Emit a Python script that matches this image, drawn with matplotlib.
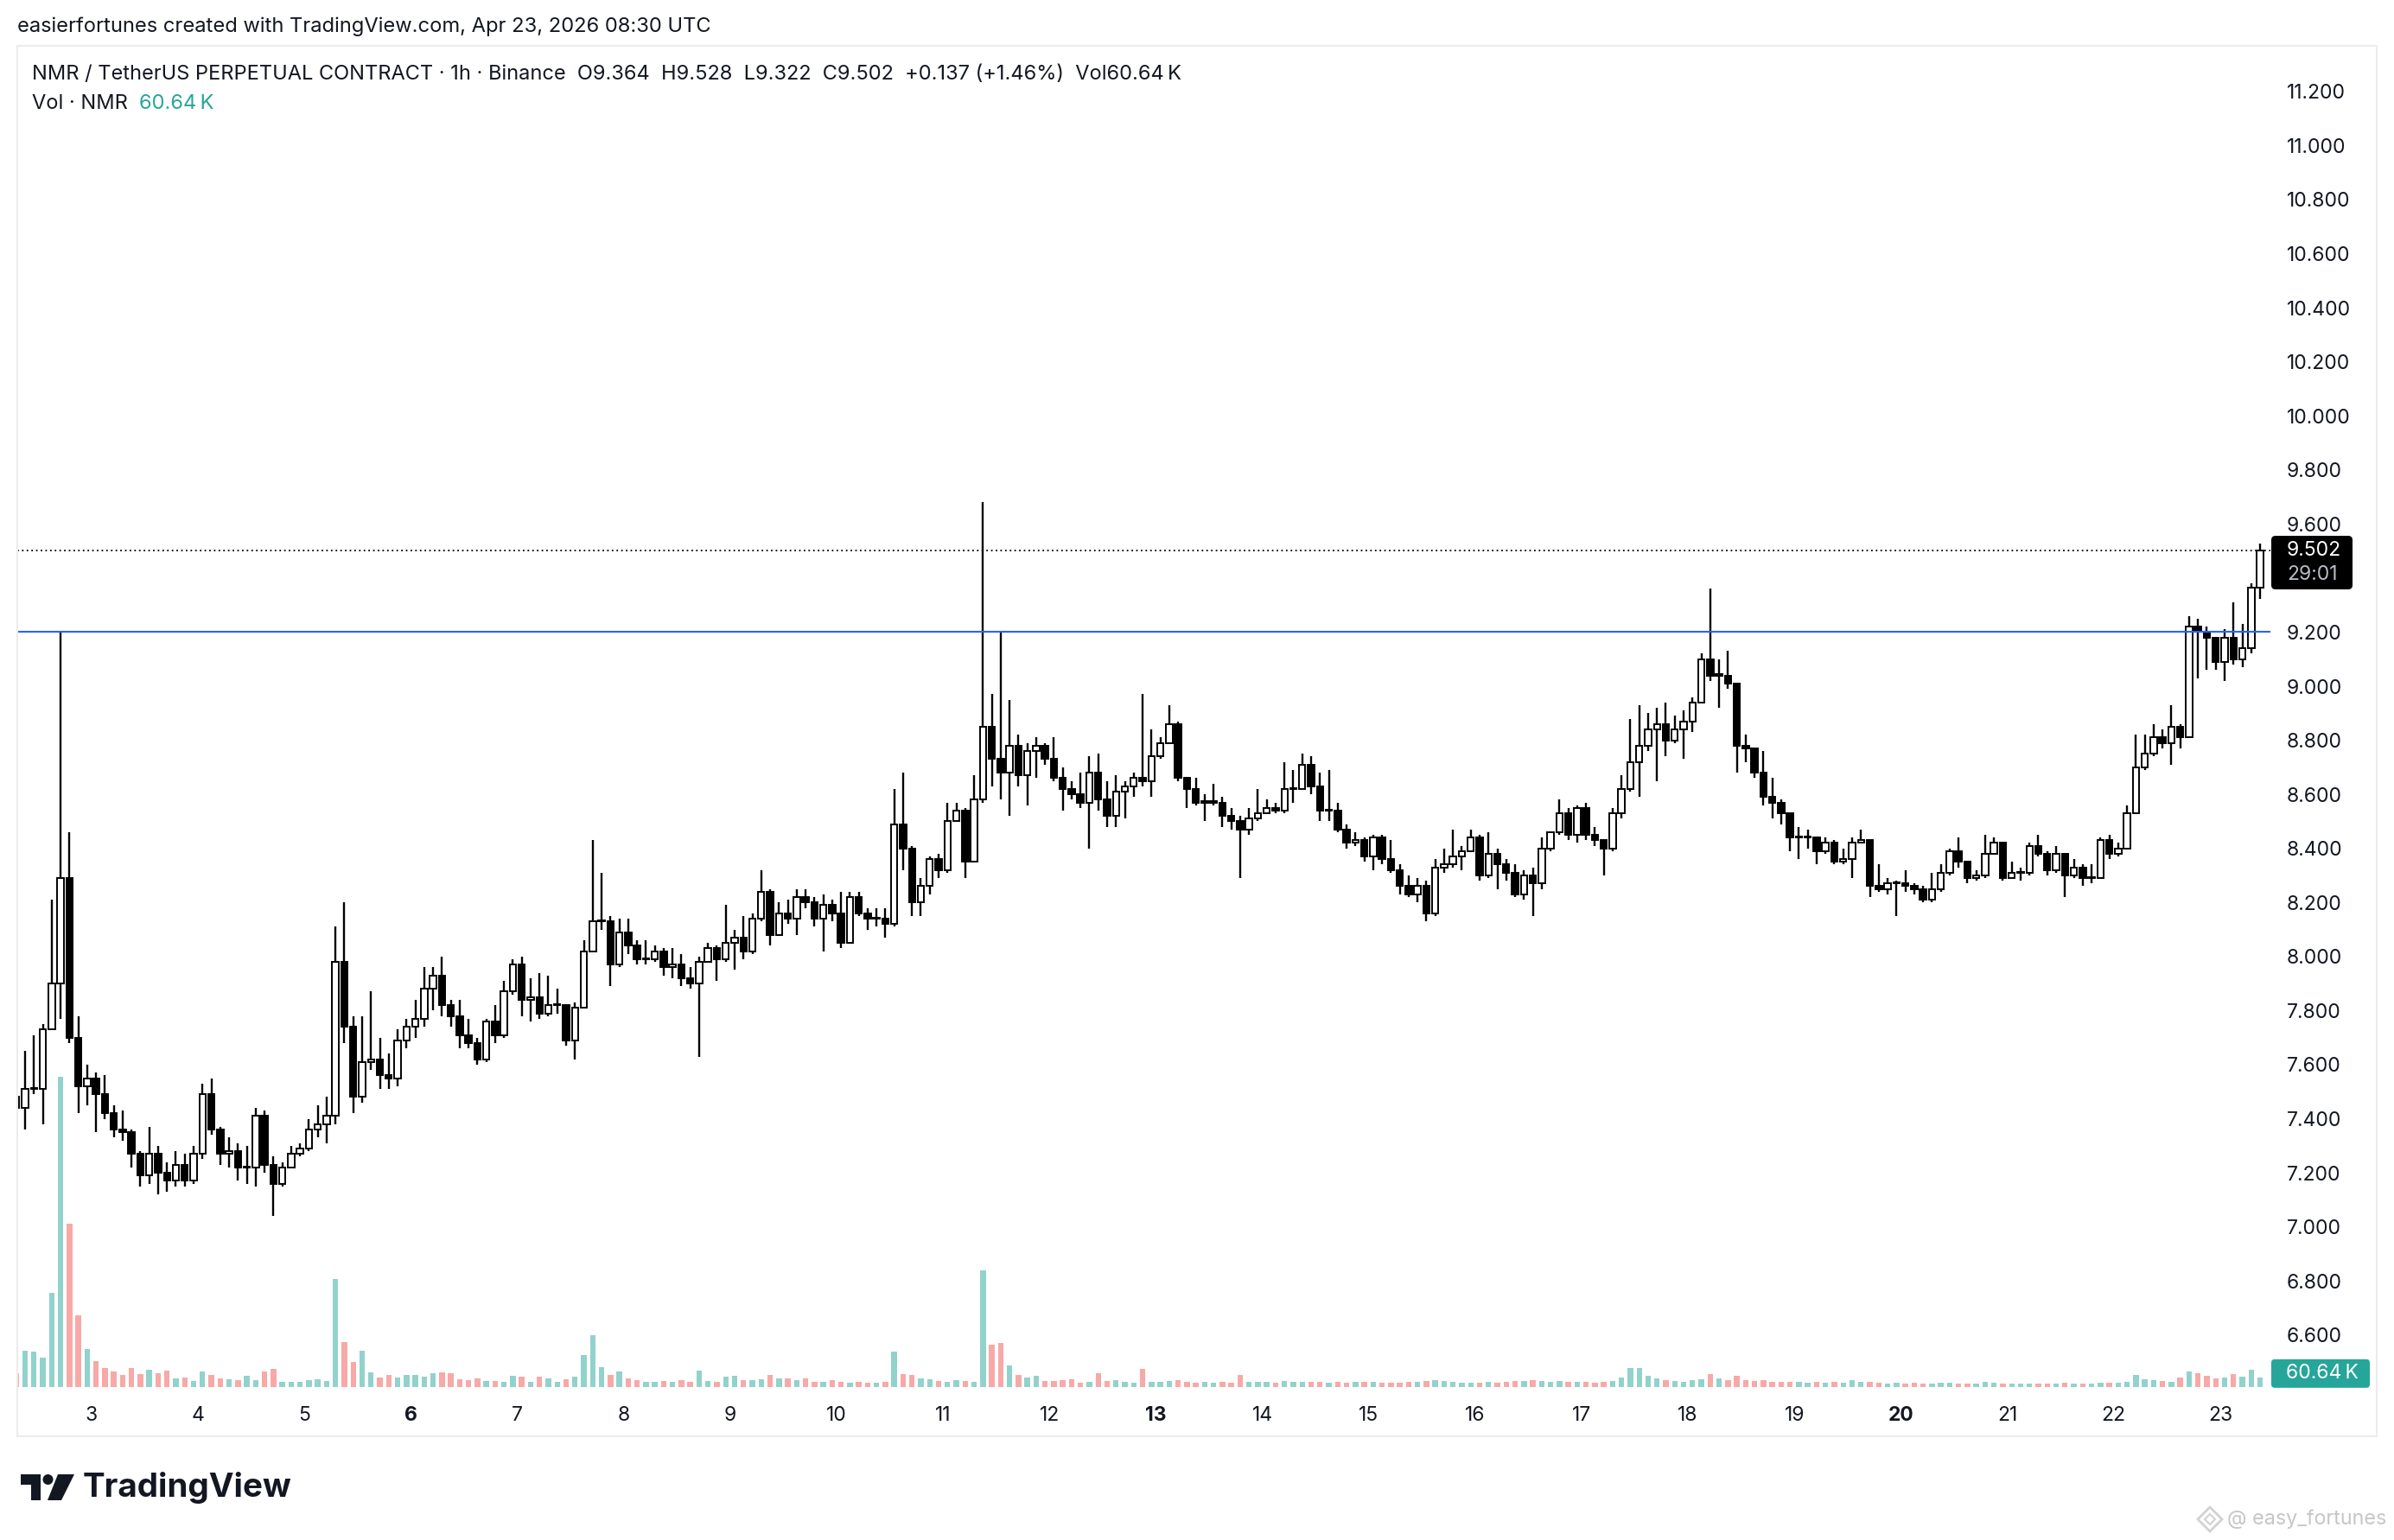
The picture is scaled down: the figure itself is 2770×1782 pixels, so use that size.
import numpy as np
import matplotlib
matplotlib.use("Agg")
import matplotlib.pyplot as plt
from matplotlib.patches import FancyBboxPatch, Polygon, Circle, Rectangle

# ---------------- data (2-hour candles, hours counted from Apr 2 00:00 UTC) ----------------
first_hour = 7          # centre of first candle
step_hours = 2
open_first = 7.48

close = [
    7.44, 7.51, 7.51, 7.73, 7.90, 8.29, 7.70, 7.52, 7.55,                              # Apr 2
    7.49, 7.42, 7.36, 7.35, 7.27, 7.19, 7.27, 7.20, 7.17, 7.23, 7.17, 7.27,            # Apr 3
    7.49, 7.36, 7.27, 7.28, 7.22, 7.22, 7.41, 7.23, 7.16, 7.22, 7.27, 7.29,            # Apr 4
    7.36, 7.38, 7.41, 7.98, 7.74, 7.48, 7.61, 7.62, 7.56, 7.55, 7.69, 7.74,            # Apr 5
    7.77, 7.88, 7.93, 7.82, 7.78, 7.71, 7.68, 7.62, 7.76, 7.71, 7.87, 7.97,            # Apr 6
    7.84, 7.85, 7.79, 7.82, 7.82, 7.69, 7.81, 8.02, 8.13, 8.13, 7.97, 8.09,            # Apr 7
    8.04, 7.99, 7.99, 8.02, 7.96, 7.97, 7.92, 7.90, 7.98, 8.03, 7.99, 8.05,            # Apr 8
    8.07, 8.02, 8.14, 8.24, 8.08, 8.16, 8.14, 8.22, 8.20, 8.14, 8.19, 8.16,            # Apr 9
    8.05, 8.22, 8.16, 8.14, 8.14, 8.12, 8.49, 8.40, 8.20, 8.26, 8.36, 8.32,            # Apr 10
    8.50, 8.54, 8.35, 8.58, 8.85, 8.73, 8.68, 8.78, 8.67, 8.76, 8.78, 8.73,            # Apr 11
    8.66, 8.62, 8.60, 8.57, 8.68, 8.58, 8.52, 8.61, 8.63, 8.66, 8.65, 8.74,            # Apr 12
    8.79, 8.86, 8.66, 8.62, 8.57, 8.57, 8.57, 8.52, 8.50, 8.47, 8.51, 8.53,            # Apr 13
    8.55, 8.54, 8.62, 8.62, 8.71, 8.63, 8.54, 8.54, 8.47, 8.42, 8.43, 8.37,            # Apr 14
    8.44, 8.36, 8.32, 8.26, 8.23, 8.26, 8.16, 8.33, 8.34, 8.37, 8.39, 8.44,            # Apr 15
    8.30, 8.38, 8.34, 8.31, 8.23, 8.30, 8.27, 8.40, 8.46, 8.53, 8.45, 8.55,            # Apr 16
    8.45, 8.43, 8.40, 8.53, 8.62, 8.72, 8.78, 8.84, 8.86, 8.80, 8.84, 8.87,            # Apr 17
    8.94, 9.10, 9.04, 9.04, 9.01, 8.78, 8.77, 8.68, 8.59, 8.57, 8.53, 8.44,            # Apr 18
    8.44, 8.44, 8.39, 8.42, 8.35, 8.36, 8.42, 8.43, 8.26, 8.25, 8.27, 8.27,            # Apr 19
    8.26, 8.25, 8.21, 8.25, 8.31, 8.39, 8.35, 8.29, 8.30, 8.38, 8.42, 8.29,            # Apr 20
    8.31, 8.31, 8.41, 8.38, 8.32, 8.38, 8.30, 8.33, 8.29, 8.29, 8.43, 8.38,            # Apr 21
    8.40, 8.53, 8.70, 8.75, 8.81, 8.79, 8.85, 8.81, 9.22, 9.20, 9.18, 9.09,            # Apr 22
    9.18, 9.10, 9.14, 9.364, 9.502,                                                    # Apr 23
]
high = [
    7.56, 7.65, 7.71, 7.75, 8.21, 9.20, 8.46, 7.78, 7.60,
    7.57, 7.56, 7.45, 7.43, 7.36, 7.28, 7.37, 7.30, 7.24, 7.28, 7.27, 7.30,
    7.53, 7.55, 7.37, 7.33, 7.31, 7.30, 7.44, 7.43, 7.26, 7.24, 7.30, 7.31,
    7.40, 7.45, 7.48, 8.11, 8.20, 7.78, 7.78, 7.87, 7.70, 7.64, 7.73, 7.77,
    7.84, 7.96, 7.96, 8.00, 7.84, 7.84, 7.77, 7.70, 7.77, 7.82, 7.91, 7.99,
    8.00, 7.92, 7.94, 7.93, 7.88, 7.82, 7.83, 8.06, 8.43, 8.31, 8.15, 8.14,
    8.14, 8.06, 8.06, 8.04, 8.03, 8.03, 8.01, 7.96, 8.00, 8.05, 8.04, 8.19,
    8.10, 8.15, 8.16, 8.32, 8.25, 8.20, 8.21, 8.25, 8.25, 8.22, 8.23, 8.21,
    8.24, 8.24, 8.24, 8.18, 8.18, 8.18, 8.62, 8.68, 8.41, 8.29, 8.37, 8.38,
    8.57, 8.57, 8.55, 8.67, 9.68, 8.97, 9.20, 8.95, 8.82, 8.79, 8.81, 8.79,
    8.81, 8.70, 8.65, 8.68, 8.74, 8.75, 8.65, 8.67, 8.65, 8.68, 8.97, 8.84,
    8.81, 8.93, 8.87, 8.66, 8.66, 8.60, 8.64, 8.59, 8.55, 8.52, 8.55, 8.62,
    8.58, 8.57, 8.72, 8.69, 8.75, 8.74, 8.68, 8.69, 8.57, 8.49, 8.46, 8.44,
    8.45, 8.45, 8.43, 8.34, 8.30, 8.29, 8.28, 8.36, 8.40, 8.47, 8.41, 8.47,
    8.45, 8.46, 8.40, 8.36, 8.34, 8.32, 8.33, 8.44, 8.46, 8.58, 8.55, 8.56,
    8.57, 8.48, 8.43, 8.55, 8.67, 8.88, 8.93, 8.90, 8.92, 8.94, 8.89, 8.91,
    8.96, 9.12, 9.36, 9.10, 9.13, 9.01, 8.82, 8.77, 8.76, 8.66, 8.58, 8.53,
    8.48, 8.47, 8.42, 8.44, 8.43, 8.40, 8.44, 8.47, 8.43, 8.34, 8.29, 8.28,
    8.32, 8.27, 8.26, 8.31, 8.34, 8.40, 8.44, 8.34, 8.32, 8.45, 8.44, 8.42,
    8.35, 8.33, 8.42, 8.45, 8.39, 8.41, 8.38, 8.36, 8.34, 8.34, 8.44, 8.45,
    8.42, 8.56, 8.82, 8.82, 8.86, 8.84, 8.93, 8.86, 9.26, 9.25, 9.22, 9.18,
    9.21, 9.31, 9.23, 9.38, 9.528,
]
low = [
    7.28, 7.36, 7.49, 7.38, 7.73, 7.77, 7.68, 7.42, 7.45,
    7.35, 7.40, 7.33, 7.32, 7.22, 7.15, 7.16, 7.12, 7.13, 7.15, 7.15, 7.16,
    7.25, 7.34, 7.23, 7.22, 7.17, 7.16, 7.15, 7.20, 7.04, 7.15, 7.22, 7.26,
    7.28, 7.33, 7.31, 7.38, 7.68, 7.42, 7.46, 7.58, 7.51, 7.51, 7.52, 7.66,
    7.70, 7.74, 7.80, 7.78, 7.74, 7.66, 7.66, 7.60, 7.61, 7.68, 7.70, 7.86,
    7.78, 7.76, 7.77, 7.78, 7.79, 7.67, 7.62, 7.81, 8.02, 8.10, 7.89, 7.96,
    8.01, 7.97, 7.97, 7.98, 7.93, 7.92, 7.89, 7.88, 7.63, 7.98, 7.91, 7.98,
    7.95, 7.99, 8.01, 8.13, 8.04, 8.08, 8.12, 8.08, 8.18, 8.11, 8.02, 8.13,
    8.03, 8.05, 8.15, 8.10, 8.11, 8.07, 8.11, 8.32, 8.15, 8.15, 8.23, 8.29,
    8.31, 8.50, 8.29, 8.36, 8.57, 8.63, 8.58, 8.52, 8.63, 8.56, 8.66, 8.71,
    8.65, 8.54, 8.58, 8.55, 8.40, 8.54, 8.48, 8.48, 8.51, 8.59, 8.63, 8.59,
    8.73, 8.79, 8.65, 8.55, 8.56, 8.50, 8.56, 8.48, 8.47, 8.29, 8.45, 8.50,
    8.53, 8.53, 8.53, 8.57, 8.62, 8.60, 8.50, 8.50, 8.46, 8.40, 8.41, 8.35,
    8.32, 8.34, 8.31, 8.23, 8.22, 8.20, 8.13, 8.15, 8.31, 8.33, 8.32, 8.39,
    8.28, 8.29, 8.25, 8.28, 8.22, 8.21, 8.15, 8.25, 8.39, 8.45, 8.43, 8.42,
    8.43, 8.41, 8.30, 8.39, 8.51, 8.61, 8.59, 8.76, 8.65, 8.74, 8.79, 8.73,
    8.83, 8.94, 9.02, 8.92, 8.99, 8.68, 8.72, 8.66, 8.56, 8.51, 8.49, 8.39,
    8.36, 8.40, 8.34, 8.38, 8.34, 8.34, 8.29, 8.42, 8.22, 8.24, 8.23, 8.15,
    8.24, 8.23, 8.20, 8.20, 8.24, 8.30, 8.33, 8.27, 8.28, 8.29, 8.38, 8.28,
    8.29, 8.28, 8.30, 8.37, 8.30, 8.31, 8.22, 8.29, 8.26, 8.27, 8.29, 8.36,
    8.37, 8.40, 8.53, 8.69, 8.74, 8.77, 8.71, 8.77, 8.81, 9.03, 9.06, 9.06,
    9.02, 9.08, 9.07, 9.12, 9.322,
]
volume_k = [
    87, 231, 223, 183, 592, 1952, 1027, 452, 238,
    163, 117, 99, 78, 121, 83, 108, 87, 104, 52, 61, 39,
    99, 74, 57, 47, 44, 70, 44, 99, 112, 34, 35, 35,
    43, 47, 39, 679, 282, 156, 229, 95, 61, 78, 61, 74,
    74, 65, 87, 91, 87, 48, 44, 52, 39, 39, 30, 70,
    65, 30, 65, 52, 34, 47, 65, 199, 325, 126, 78, 99,
    52, 44, 34, 30, 39, 34, 43, 35, 104, 39, 35, 65,
    69, 44, 43, 47, 74, 52, 52, 43, 52, 30, 34, 43,
    35, 26, 30, 26, 26, 30, 225, 83, 74, 52, 48, 39,
    35, 43, 39, 30, 732, 269, 277, 134, 74, 61, 70, 39,
    39, 44, 48, 26, 35, 86, 39, 44, 34, 26, 113, 34,
    35, 40, 45, 30, 28, 30, 26, 30, 28, 75, 35, 30,
    30, 28, 40, 30, 32, 35, 30, 26, 30, 28, 30, 34,
    30, 26, 26, 28, 30, 30, 40, 44, 36, 30, 28, 26,
    28, 30, 26, 35, 40, 38, 44, 40, 35, 38, 34, 30,
    30, 26, 32, 40, 59, 121, 121, 69, 52, 44, 40, 35,
    45, 50, 80, 55, 45, 70, 45, 40, 45, 35, 30, 35,
    30, 26, 30, 28, 30, 26, 45, 30, 32, 26, 24, 26,
    24, 26, 22, 24, 26, 28, 24, 22, 20, 30, 26, 22,
    20, 22, 24, 22, 20, 22, 26, 24, 22, 20, 28, 26,
    26, 30, 75, 50, 45, 40, 35, 60, 100, 85, 70, 55,
    60, 80, 65, 110, 60.64,
]

day_numbers = list(range(3, 24))
bold_days = [6, 13, 20]
price_ticks = [6.6, 6.8, 7.0, 7.2, 7.4, 7.6, 7.8, 8.0, 8.2, 8.4, 8.6, 8.8, 9.0, 9.2,
               9.6, 9.8, 10.0, 10.2, 10.4, 10.6, 10.8, 11.0, 11.2]
resistance_level = 9.2
last_price = 9.502
countdown = "29:01"
last_volume_label = "60.64\u2009K"

header_top = "easierfortunes created with TradingView.com, Apr 23, 2026 08:30 UTC"
header_symbol = ("NMR / TetherUS PERPETUAL CONTRACT · 1h · Binance  O9.364  H9.528  "
                 "L9.322  C9.502  +0.137 (+1.46%)  Vol60.64\u2009K")
header_vol = "Vol · NMR"

# ---------------- figure ----------------
W, H = 2770, 1782
DPI = 100
FONT = ["Inter", "DejaVu Sans"]
plt.rcParams["font.family"] = FONT
TXT = "#131722"

fig = plt.figure(figsize=(W / DPI, H / DPI), dpi=DPI, facecolor="white")

PL, PR, PT, PB = 20, 2627, 53, 1617          # plot area in pixels
ax = fig.add_axes([PL / W, 1 - PB / H, (PR - PL) / W, (PB - PT) / H])
axv = ax.twinx()
ax.set_zorder(axv.get_zorder() + 1)
ax.patch.set_visible(False)
axv.patch.set_visible(False)

n = len(close)
assert len(high) == n and len(low) == n and len(volume_k) == n
o = np.array([open_first] + close[:-1])
c = np.array(close)
hi = np.array(high)
lo = np.array(low)
v = np.array(volume_k)
x = first_hour + step_hours * np.arange(n)
up = c >= o

# volume
axv.bar(x, v, width=1.25, color=np.where(up, "#92d2cc", "#f7a9a7"), linewidth=0, zorder=1)
axv.set_ylim(-65.2, 8439)
axv.set_yticks([])
for s in axv.spines.values():
    s.set_visible(False)

# candles
ax.vlines(x, np.minimum(lo, np.minimum(o, c)), np.maximum(hi, np.maximum(o, c)),
          color="black", linewidth=1.7, zorder=2)
body_h = np.maximum(np.abs(c - o), 0.004)
ax.bar(x, body_h, width=1.45, bottom=np.minimum(o, c),
       color=np.where(up, "white", "black"), edgecolor="black", linewidth=1.4, zorder=3)

ax.axhline(resistance_level, color="#2962ff", linewidth=1.5, zorder=4)
ax.axhline(last_price, color="black", linewidth=1.3, linestyle=(0, (1, 2)), zorder=4)

ax.set_xlim(7.24, 515.33)
ax.set_ylim(6.369, 11.369)
for s in ax.spines.values():
    s.set_visible(False)

ax.yaxis.tick_right()
ax.set_yticks(price_ticks)
ax.set_yticklabels([f"{p:.3f}" for p in price_ticks])
ax.tick_params(axis="y", length=0, pad=13.7, labelsize=16.5, labelcolor=TXT)

ax.set_xticks([24 * (d - 2) for d in day_numbers])
ax.set_xticklabels([str(d) for d in day_numbers])
ax.tick_params(axis="x", length=0, pad=7.5, labelsize=16.5, labelcolor=TXT)
for lab, d in zip(ax.get_xticklabels(), day_numbers):
    if d in bold_days:
        lab.set_fontweight("bold")

# ---------------- overlay in pixel coordinates ----------------
ov = fig.add_axes([0, 0, 1, 1], zorder=10)
ov.set_xlim(0, W)
ov.set_ylim(H, 0)
ov.axis("off")
ov.patch.set_visible(False)

renderer = fig.canvas.get_renderer()


def fit_text(xp, yp, s, target_w, size0=15, **kw):
    t = ov.text(xp, yp, s, fontsize=size0, **kw)
    bb = t.get_window_extent(renderer)
    t.set_fontsize(size0 * target_w / bb.width)
    return t


# chart frame
ov.add_patch(Rectangle((20, 53), 2730, 1609, fill=False, edgecolor="#ececec", linewidth=1.5))

fit_text(20, 31, header_top, 803, color=TXT, va="center", ha="left")
t2 = fit_text(37, 86, header_symbol, 1333, color=TXT, va="center", ha="left")
fs = t2.get_fontsize()
ov.text(37, 120, header_vol, fontsize=fs, color=TXT, va="center", ha="left")
ov.text(161, 120, last_volume_label, fontsize=fs, color="#26a69a", va="center", ha="left")

# last price label
to_px = lambda val: ov.transData.inverted().transform(ax.transData.transform((0, val)))[1]
yp = to_px(last_price)
ov.add_patch(FancyBboxPatch((2628, yp - 17), 94, 62, boxstyle="round,pad=0,rounding_size=5",
                            facecolor="black", edgecolor="none"))
ov.text(2646, yp, f"{last_price:.3f}", fontsize=16.5, color="white", va="center", ha="left")
ov.text(2646, yp + 28, countdown, fontsize=16.5, color="#b8bcc4", va="center", ha="left")

# last volume label
yv = ov.transData.inverted().transform(axv.transData.transform((0, volume_k[-1])))[1] - 5
ov.add_patch(FancyBboxPatch((2628, yv - 16), 114, 33, boxstyle="round,pad=0,rounding_size=4",
                            facecolor="#26a69a", edgecolor="none"))
ov.text(2645, yv, last_volume_label, fontsize=16.5, color="white", va="center", ha="left")

# TradingView logo
ov.add_patch(Polygon([(24, 1706), (47, 1706), (47, 1736), (36, 1736), (36, 1718), (24, 1718)],
                     closed=True, facecolor="#131722", edgecolor="none"))
ov.add_patch(Circle((55.5, 1712), 6, facecolor="#131722", edgecolor="none"))
ov.add_patch(Polygon([(67, 1706), (86, 1706), (71, 1736), (55, 1736)],
                     closed=True, facecolor="#131722", edgecolor="none"))
fit_text(96, 1721, "TradingView", 243, size0=24, color="#131722", fontweight="bold",
         va="center", ha="left")

# watermark
ov.add_patch(Polygon([(2557, 1744), (2571, 1758), (2557, 1772), (2543, 1758)], closed=True,
                     fill=False, edgecolor="#d2d2d2", linewidth=2))
ov.add_patch(Polygon([(2557, 1752), (2563, 1758), (2557, 1764), (2551, 1758)], closed=True,
                     fill=False, edgecolor="#d2d2d2", linewidth=1.5))
fit_text(2577, 1758, "@ easy_fortunes", 185, color="#c6c6c6", va="center", ha="left")

fig.savefig("out.png", dpi=DPI, facecolor="white")
